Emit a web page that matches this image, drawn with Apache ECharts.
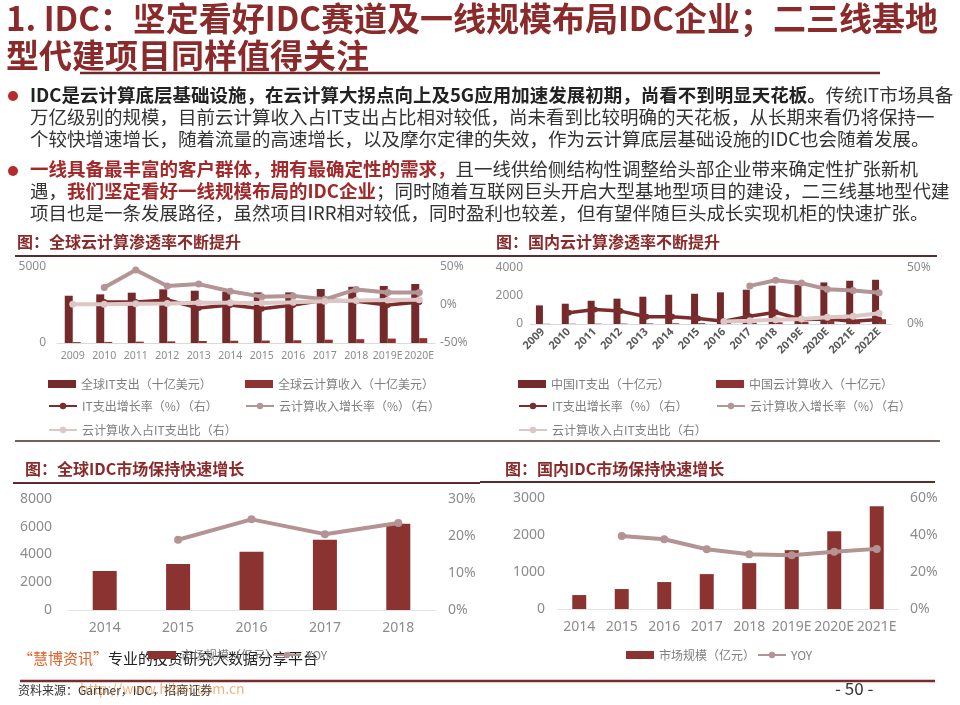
<!DOCTYPE html>
<html>
<head>
<meta charset="utf-8">
<script src="https://cdn.jsdelivr.net/npm/echarts@6/dist/echarts.min.js"></script>
<style>
  body { margin: 0; background: #fff; }
  #main { width: 960px; height: 705px; }
</style>
</head>
<body>
<div id="main"></div>
<script>
// 全球云计算渗透率
var globalYears = ['2009', '2010', '2011', '2012', '2013', '2014', '2015', '2016', '2017', '2018', '2019E', '2020E']
var globalItSpend = [3110, 3200, 3310, 3530, 3440, 3380, 3330, 3330, 3550, 3700, 3750, 3880]
var globalCloudRev = [60, 70, 90, 110, 130, 150, 160, 180, 220, 250, 290, 320]
var globalItGrowth = [null, 4, 4, 6.5, -4, 0, -5, 0, 6.5, 5, 0, 4]
var globalCloudGrowth = [null, 23, 46, 25, 27.5, 18, 11, 12, 7.5, 20.5, 16.5, 16.5]
var globalCloudShare = [1, 1, 1.5, 2, 3, 3, 2.5, 3.5, 5, 6, 6.5, 7]

// 国内云计算渗透率
var chinaYears = ['2009', '2010', '2011', '2012', '2013', '2014', '2015', '2016', '2017', '2018', '2019E', '2020E', '2021E', '2022E']
var chinaItSpend = [1330, 1450, 1660, 1810, 1950, 2090, 2160, 2260, 2450, 2740, 2800, 2970, 3090, 3160]
var chinaCloudRev = [15, 20, 25, 30, 40, 50, 60, 70, 90, 120, 160, 210, 270, 340]
var chinaItGrowth = [null, 10, 13, 11.5, 6.5, 6.5, 5, 2.5, 7, 10.5, 4, 4.5, 2.5, 4]
var chinaCloudGrowth = [null, null, null, null, null, null, null, null, 34, 39, 36.5, 31, 30, 28]
var chinaCloudShare = [null, null, null, null, null, null, null, 2.3, 3, 3.8, 4.5, 6, 7, 9.5]

// 全球IDC市场
var idcGlobalYears = ['2014', '2015', '2016', '2017', '2018']
var idcGlobalSize = [2818, 3324, 4190, 5060, 6215]
var idcGlobalYoy = [null, 19, 24.5, 20.5, 23.5]

// 国内IDC市场
var idcChinaYears = ['2014', '2015', '2016', '2017', '2018', '2019E', '2020E', '2021E']
var idcChinaSize = [377, 539, 728, 943, 1240, 1590, 2102, 2776]
var idcChinaYoy = [null, 39.5, 37.7, 32.3, 29.6, 29.1, 30.9, 32.5]

var CJK = 'Noto Sans CJK SC'
var RED = '#8b2a2a'

// 坐标轴数字不要千分位
function plain (v) { return String(v) }
function pct (v) { return v + '%' }
function yLabel (margin, size, fmt) {
  return { margin: margin, color: '#8c8c8c', fontSize: size, fontFamily: 'Noto Sans', formatter: fmt || plain }
}

function lg (name, left, top, bar) {
  return {
    data: [bar ? { name: name, icon: 'rect' } : name],
    left: left,
    top: top,
    padding: 0,
    itemWidth: 28,
    itemHeight: 8,
    itemGap: 0,
    selectedMode: false,
    textStyle: { color: '#7f7f7f', fontSize: 12, fontFamily: CJK }
  }
}

function txt (text, x, y, size, color, bold) {
  return {
    type: 'text', left: x, top: y,
    style: { text: text, fill: color, font: (bold ? 'bold ' : '') + size + 'px "' + CJK + '"' }
  }
}

function hline (x1, x2, y, w, color) {
  return { type: 'line', shape: { x1: x1, y1: y, x2: x2, y2: y }, style: { stroke: color, lineWidth: w } }
}

// 正文段落（按原图断行）
var paraRich = {
  b: { fontWeight: 'bold', fill: '#222', fontSize: 18.5, fontFamily: CJK },
  r: { fontWeight: 'bold', fill: '#a3282a', fontSize: 18.5, fontFamily: CJK },
  n: { fill: '#333', fontSize: 18.5, fontFamily: CJK }
}
var paraLines = [
  '{b|IDC是云计算底层基础设施，在云计算大拐点向上及5G应用加速发展初期，尚看不到明显天花板。}{n|传统IT市场具备}',
  '{n|万亿级别的规模，目前云计算收入占IT支出占比相对较低，尚未看到比较明确的天花板，从长期来看仍将保持一}',
  '{n|个较快增速增长，随着流量的高速增长，以及摩尔定律的失效，作为云计算底层基础设施的IDC也会随着发展。}',
  '{r|一线具备最丰富的客户群体，拥有最确定性的需求，}{n|且一线供给侧结构性调整给头部企业带来确定性扩张新机}',
  '{n|遇，}{r|我们坚定看好一线规模布局的IDC企业}{n|；同时随着互联网巨头开启大型基地型项目的建设，二三线基地型代建}',
  '{n|项目也是一条发展路径，虽然项目IRR相对较低，同时盈利也较差，但有望伴随巨头成长实现机柜的快速扩张。}'
]
var paraY = [86, 108, 130, 160, 182, 204]

var graphics = [
  txt('1. IDC：坚定看好IDC赛道及一线规模布局IDC企业；二三线基地', 6, 2, 33, RED, true),
  txt('型代建项目同样值得关注', 6, 39, 33, RED, true),
  hline(80, 880, 73, 2.5, '#6e2a2a'),
  { type: 'circle', shape: { cx: 13, cy: 96, r: 5 }, style: { fill: '#b52b2b' } },
  { type: 'circle', shape: { cx: 13, cy: 171, r: 5 }, style: { fill: '#b52b2b' } },
  txt('图：全球云计算渗透率不断提升', 17, 234, 16, RED, true),
  hline(15, 480, 256, 2, '#5c2b2b'),
  txt('图：国内云计算渗透率不断提升', 496, 234, 16, RED, true),
  hline(480, 937, 256, 2, '#5c2b2b'),
  hline(15, 940, 441, 1.5, '#4a2a2a'),
  txt('图：全球IDC市场保持快速增长', 25, 461, 16, RED, true),
  hline(13, 480, 483, 2, '#5c2b2b'),
  txt('图：国内IDC市场保持快速增长', 505, 461, 16, RED, true),
  hline(480, 935, 482, 2, '#5c2b2b'),
  hline(20, 935, 681, 2.5, '#7a2b2b'),
  {
    type: 'text', left: 18, top: 651,
    style: {
      text: '{o|“慧博资讯”}{k|专业的投资研究大数据分享平台}',
      rich: {
        o: { fill: '#e0622a', fontSize: 15, fontFamily: CJK },
        k: { fill: '#222', fontSize: 15, fontFamily: CJK }
      }
    }
  },
  txt('资料来源：Gartner，IDC，招商证券', 18, 684, 12, '#333', false),
  txt('http://www.hibor.com.cn', 80, 682, 14, 'rgba(214,120,40,0.55)', false),
  txt('- 50 -', 835, 680, 17, '#333', false)
]
paraLines.forEach(function (t, i) {
  graphics.push({ type: 'text', left: 30, top: paraY[i], style: { text: t, rich: paraRich } })
})

var chart = echarts.init(document.getElementById('main'))
chart.setOption({
  animation: false,
  textStyle: { fontFamily: CJK },
  graphic: graphics,
  legend: [
    lg('全球IT支出（十亿美元）', 48, 378, true),
    lg('全球云计算收入（十亿美元）', 245, 378, true),
    lg('IT支出增长率（%）（右）', 48, 400),
    lg('云计算收入增长率（%）（右）', 245, 400),
    lg('云计算收入占IT支出比（右）', 48, 424),
    lg('中国IT支出（十亿元）', 518, 378, true),
    lg('中国云计算收入（十亿元）', 716, 378, true),
    lg('IT支出增长率（%）（右）', 518, 400),
    lg('云计算收入增长率（%）（右）', 716, 400),
    lg('云计算收入占IT支出比（右）', 518, 424),
    lg('市场规模（亿元）', 148, 649, true),
    lg('YOY', 272, 649),
    lg('市场规模（亿元）', 626, 649, true),
    lg('YOY', 757, 649)
  ],
  grid: [
    { left: 57, top: 267, width: 378, height: 76 },
    { left: 530, top: 268, width: 362, height: 56 },
    { left: 68, top: 499, width: 367, height: 111 },
    { left: 558, top: 498, width: 340, height: 111 }
  ],
  xAxis: [
    {
      gridIndex: 0, type: 'category', data: globalYears,
      axisLine: { lineStyle: { color: '#d9d9d9' } }, axisTick: { show: false },
      axisLabel: { interval: 0, margin: 8, color: '#8c8c8c', fontSize: 10.5, fontFamily: 'Noto Sans' }
    },
    {
      gridIndex: 1, type: 'category', data: chinaYears,
      axisLine: { lineStyle: { color: '#d9d9d9' } }, axisTick: { show: false },
      axisLabel: { interval: 0, rotate: 45, margin: 6, color: '#595959', fontWeight: 'bold', fontSize: 11, fontFamily: 'Noto Sans' }
    },
    {
      gridIndex: 2, type: 'category', data: idcGlobalYears,
      axisLine: { lineStyle: { color: '#e3e3e3' } }, axisTick: { show: false },
      axisLabel: { margin: 11, color: '#8c8c8c', fontSize: 14, fontFamily: 'Noto Sans' }
    },
    {
      gridIndex: 3, type: 'category', data: idcChinaYears,
      axisLine: { lineStyle: { color: '#e3e3e3' } }, axisTick: { show: false },
      axisLabel: { interval: 0, margin: 11, color: '#8c8c8c', fontSize: 14, fontFamily: 'Noto Sans' }
    }
  ],
  yAxis: [
    { gridIndex: 0, type: 'value', min: 0, max: 5000, interval: 5000, splitLine: { show: false }, axisLabel: yLabel(11, 12) },
    { gridIndex: 0, type: 'value', min: -50, max: 50, interval: 50, position: 'right', splitLine: { show: false }, axisLabel: yLabel(5, 12, pct) },
    { gridIndex: 1, type: 'value', min: 0, max: 4000, interval: 2000, splitLine: { show: false }, axisLabel: yLabel(7, 12) },
    { gridIndex: 1, type: 'value', min: 0, max: 50, interval: 50, position: 'right', splitLine: { show: false }, axisLabel: yLabel(15, 12, pct) },
    { gridIndex: 2, type: 'value', min: 0, max: 8000, interval: 2000, splitLine: { show: false }, axisLabel: yLabel(16, 14) },
    { gridIndex: 2, type: 'value', min: 0, max: 30, interval: 10, position: 'right', splitLine: { show: false }, axisLabel: yLabel(13, 14, pct) },
    { gridIndex: 3, type: 'value', min: 0, max: 3000, interval: 1000, splitLine: { show: false }, axisLabel: yLabel(13, 14) },
    { gridIndex: 3, type: 'value', min: 0, max: 60, interval: 20, position: 'right', splitLine: { show: false }, axisLabel: yLabel(12, 14, pct) }
  ],
  series: [
    // 全球
    { name: '全球IT支出（十亿美元）', type: 'bar', xAxisIndex: 0, yAxisIndex: 0, data: globalItSpend, barWidth: 8, barGap: '0%', itemStyle: { color: '#742a2a' } },
    { name: '全球云计算收入（十亿美元）', type: 'bar', xAxisIndex: 0, yAxisIndex: 0, data: globalCloudRev, barWidth: 8, itemStyle: { color: '#8f3232' } },
    { name: 'IT支出增长率（%）（右）', type: 'line', xAxisIndex: 0, yAxisIndex: 1, data: globalItGrowth, symbol: 'circle', symbolSize: 6, lineStyle: { width: 3.5, color: '#7b2d2d' }, itemStyle: { color: '#7b2d2d' } },
    { name: '云计算收入增长率（%）（右）', type: 'line', xAxisIndex: 0, yAxisIndex: 1, data: globalCloudGrowth, symbol: 'circle', symbolSize: 7, lineStyle: { width: 4, color: '#b49494' }, itemStyle: { color: '#b49494' } },
    { name: '云计算收入占IT支出比（右）', type: 'line', xAxisIndex: 0, yAxisIndex: 1, data: globalCloudShare, symbol: 'circle', symbolSize: 7, lineStyle: { width: 4, color: '#dcc6c6' }, itemStyle: { color: '#dcc6c6' } },
    // 国内
    { name: '中国IT支出（十亿元）', type: 'bar', xAxisIndex: 1, yAxisIndex: 2, data: chinaItSpend, barWidth: 7, barGap: '0%', itemStyle: { color: '#742a2a' } },
    { name: '中国云计算收入（十亿元）', type: 'bar', xAxisIndex: 1, yAxisIndex: 2, data: chinaCloudRev, barWidth: 7, itemStyle: { color: '#8f3232' } },
    { name: 'IT支出增长率（%）（右）', type: 'line', xAxisIndex: 1, yAxisIndex: 3, data: chinaItGrowth, symbol: 'circle', symbolSize: 6, lineStyle: { width: 3.5, color: '#7b2d2d' }, itemStyle: { color: '#7b2d2d' } },
    { name: '云计算收入增长率（%）（右）', type: 'line', xAxisIndex: 1, yAxisIndex: 3, data: chinaCloudGrowth, symbol: 'circle', symbolSize: 7, lineStyle: { width: 4, color: '#b49494' }, itemStyle: { color: '#b49494' } },
    { name: '云计算收入占IT支出比（右）', type: 'line', xAxisIndex: 1, yAxisIndex: 3, data: chinaCloudShare, symbol: 'circle', symbolSize: 7, lineStyle: { width: 4, color: '#dcc6c6' }, itemStyle: { color: '#dcc6c6' } },
    // IDC
    { name: '市场规模（亿元）', type: 'bar', xAxisIndex: 2, yAxisIndex: 4, data: idcGlobalSize, barWidth: 24, itemStyle: { color: '#8b3330' } },
    { name: 'YOY', type: 'line', xAxisIndex: 2, yAxisIndex: 5, data: idcGlobalYoy, symbol: 'circle', symbolSize: 8, lineStyle: { width: 4, color: '#b39393' }, itemStyle: { color: '#b39393' } },
    { name: '市场规模（亿元）', type: 'bar', xAxisIndex: 3, yAxisIndex: 6, data: idcChinaSize, barWidth: 14, itemStyle: { color: '#8b3330' } },
    { name: 'YOY', type: 'line', xAxisIndex: 3, yAxisIndex: 7, data: idcChinaYoy, symbol: 'circle', symbolSize: 8, lineStyle: { width: 4, color: '#b39393' }, itemStyle: { color: '#b39393' } }
  ]
})
</script>
</body>
</html>
